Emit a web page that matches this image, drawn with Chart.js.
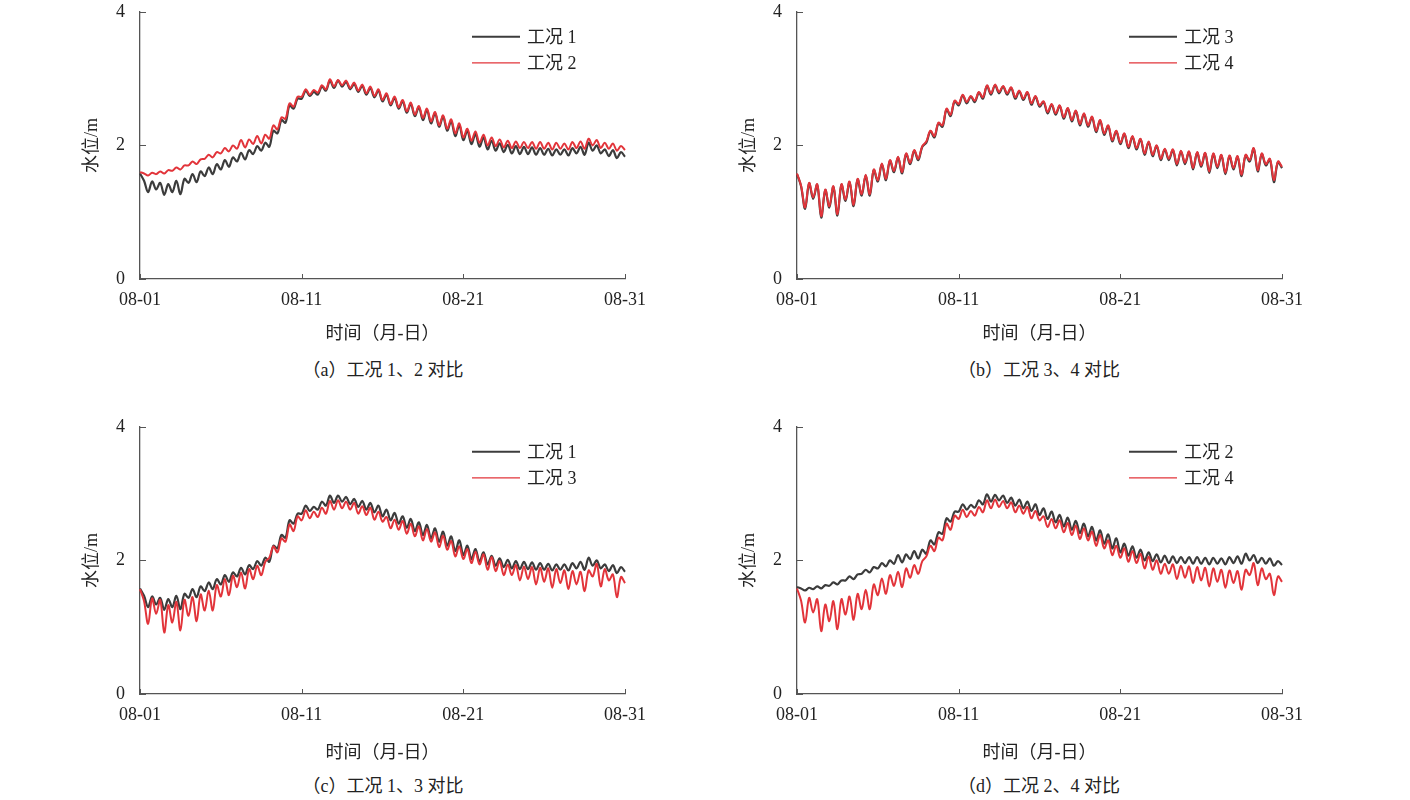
<!DOCTYPE html>
<html>
<head>
<meta charset="utf-8">
<script src="https://cdn.jsdelivr.net/npm/chart.js@4.4.1/dist/chart.umd.min.js"></script>
<style>
  html, body { margin: 0; padding: 0; background: #ffffff; }
  body { width: 1410px; height: 800px; position: relative; overflow: hidden; }
  canvas { position: absolute; }
  .cap { position: absolute; width: 400px; text-align: center; font: 18px "Liberation Serif", "Noto Sans CJK SC", serif; line-height: 22px; color: #222; }
</style>
</head>
<body>
<canvas id="ca" width="620" height="351" style="left:40px;top:-6px"></canvas>
<canvas id="cb" width="620" height="351" style="left:697px;top:-6px"></canvas>
<canvas id="cc" width="620" height="355" style="left:40px;top:409px"></canvas>
<canvas id="cd" width="620" height="355" style="left:697px;top:409px"></canvas>
<div class="cap" style="left:183px;top:359px">（a）工况 1、2 对比</div>
<div class="cap" style="left:839px;top:359px">（b）工况 3、4 对比</div>
<div class="cap" style="left:183px;top:775px">（c）工况 1、3 对比</div>
<div class="cap" style="left:839px;top:775px">（d）工况 2、4 对比</div>
<script>
// ---- data (6-hourly water level, m) ----
const tickLabels = ['08-01', '08-11', '08-21', '08-31'];
const yTicks = [0, 2, 4];
const caseNames = ['工况 1', '工况 2', '工况 3', '工况 4'];

const case1 = [
  1.58, 1.47, 1.30, 1.46,  1.34, 1.44, 1.26, 1.42,  1.30, 1.47, 1.27, 1.50,
  1.44, 1.57, 1.45, 1.61,  1.54, 1.67, 1.57, 1.72,  1.64, 1.78, 1.68, 1.82,
  1.76, 1.89, 1.79, 1.93,  1.87, 1.99, 1.92, 2.04,  1.98, 2.22, 2.18, 2.38,
  2.34, 2.60, 2.55, 2.70,  2.70, 2.82, 2.74, 2.80,  2.76, 2.88, 2.82, 2.97,
  2.86, 2.97, 2.88, 2.95,  2.84, 2.92, 2.80, 2.89,  2.76, 2.86, 2.72, 2.82,
  2.66, 2.76, 2.60, 2.71,  2.55, 2.66, 2.49, 2.62,  2.44, 2.57, 2.38, 2.53,
  2.33, 2.48, 2.28, 2.43,  2.22, 2.36, 2.14, 2.30,  2.08, 2.22, 2.02, 2.17,
  1.98, 2.12, 1.94, 2.07,  1.92, 2.03, 1.90, 2.01,  1.88, 1.99, 1.87, 1.98,
  1.87, 1.97, 1.86, 1.96,  1.86, 1.95, 1.85, 1.94,  1.86, 1.94, 1.85, 1.96,
  1.88, 1.98, 1.86, 2.04,  1.92, 2.00, 1.88, 1.94,  1.84, 1.93, 1.81, 1.90,
  1.83
];
const case2 = [
  1.60, 1.58, 1.55, 1.59,  1.57, 1.61, 1.58, 1.63,  1.62, 1.67, 1.64, 1.70,
  1.70, 1.76, 1.72, 1.79,  1.80, 1.86, 1.82, 1.90,  1.88, 1.96, 1.91, 2.00,
  1.95, 2.08, 1.97, 2.09,  2.02, 2.14, 2.03, 2.16,  2.10, 2.30, 2.24, 2.42,
  2.40, 2.63, 2.58, 2.73,  2.73, 2.84, 2.76, 2.83,  2.79, 2.90, 2.84, 2.99,
  2.88, 2.98, 2.90, 2.97,  2.86, 2.94, 2.82, 2.91,  2.78, 2.88, 2.74, 2.84,
  2.68, 2.78, 2.62, 2.73,  2.57, 2.68, 2.51, 2.64,  2.46, 2.59, 2.41, 2.55,
  2.36, 2.50, 2.30, 2.45,  2.25, 2.39, 2.18, 2.33,  2.12, 2.25, 2.07, 2.21,
  2.04, 2.16, 2.00, 2.12,  1.99, 2.09, 1.97, 2.07,  1.96, 2.06, 1.96, 2.05,
  1.96, 2.05, 1.95, 2.05,  1.95, 2.04, 1.94, 2.04,  1.95, 2.03, 1.94, 2.05,
  1.96, 2.06, 1.95, 2.10,  2.00, 2.08, 1.96, 2.04,  1.95, 2.03, 1.92, 1.99,
  1.93
];
const case3 = [
  1.57, 1.39, 1.05, 1.43,  1.20, 1.41, 0.92, 1.33,  1.07, 1.38, 0.95, 1.41,
  1.17, 1.45, 1.09, 1.49,  1.25, 1.55, 1.25, 1.63,  1.46, 1.72, 1.48, 1.77,
  1.60, 1.82, 1.58, 1.87,  1.72, 1.92, 1.78, 1.98,  2.04, 2.21, 2.12, 2.33,
  2.28, 2.54, 2.44, 2.66,  2.60, 2.75, 2.63, 2.73,  2.65, 2.79, 2.70, 2.89,
  2.76, 2.90, 2.78, 2.88,  2.76, 2.86, 2.70, 2.81,  2.68, 2.79, 2.61, 2.73,
  2.58, 2.65, 2.48, 2.61,  2.46, 2.59, 2.40, 2.55,  2.36, 2.51, 2.30, 2.47,
  2.28, 2.42, 2.20, 2.37,  2.16, 2.29, 2.06, 2.21,  2.02, 2.17, 1.96, 2.13,
  1.94, 2.09, 1.86, 2.05,  1.84, 1.99, 1.78, 1.94,  1.78, 1.93, 1.70, 1.91,
  1.72, 1.90, 1.64, 1.89,  1.68, 1.88, 1.59, 1.87,  1.66, 1.85, 1.57, 1.84,
  1.64, 1.83, 1.54, 1.85,  1.76, 1.95, 1.61, 1.87,  1.70, 1.79, 1.45, 1.75,
  1.66
];
const case4 = [
  1.58, 1.40, 1.07, 1.44,  1.22, 1.42, 0.94, 1.34,  1.09, 1.39, 0.97, 1.42,
  1.19, 1.46, 1.11, 1.50,  1.27, 1.56, 1.27, 1.64,  1.48, 1.73, 1.50, 1.78,
  1.62, 1.83, 1.60, 1.88,  1.74, 1.93, 1.80, 1.99,  2.06, 2.22, 2.14, 2.34,
  2.30, 2.55, 2.46, 2.67,  2.62, 2.76, 2.65, 2.74,  2.67, 2.80, 2.72, 2.90,
  2.78, 2.91, 2.80, 2.89,  2.78, 2.87, 2.72, 2.82,  2.70, 2.80, 2.63, 2.74,
  2.60, 2.66, 2.50, 2.62,  2.48, 2.60, 2.42, 2.56,  2.38, 2.52, 2.32, 2.48,
  2.30, 2.43, 2.22, 2.38,  2.18, 2.30, 2.08, 2.22,  2.04, 2.18, 1.98, 2.14,
  1.96, 2.10, 1.88, 2.06,  1.86, 2.00, 1.80, 1.95,  1.80, 1.94, 1.72, 1.92,
  1.74, 1.91, 1.66, 1.90,  1.70, 1.89, 1.61, 1.88,  1.68, 1.86, 1.59, 1.85,
  1.66, 1.84, 1.56, 1.86,  1.78, 1.96, 1.63, 1.88,  1.72, 1.80, 1.48, 1.76,
  1.68
];

// time categories: every 6 hours from 08-01 00:00 to 08-31 00:00
const pad = n => String(n).padStart(2, '0');
const times = [];
for (let d = 1; d <= 31; d++) {
  for (const h of [0, 6, 12, 18]) {
    if (d === 31 && h > 0) break;
    times.push('08-' + pad(d) + ' ' + pad(h) + ':00');
  }
}
const tickIndex = tickLabels.map(t => times.indexOf(t + ' 00:00'));

const FONT = '"Liberation Serif", "Noto Sans CJK SC", serif';
const BLACK = '#3c3c3c';
const RED = '#e2343a';
const AXIS = '#555555';

const decor = {
  id: 'decor',
  afterDraw(chart) {
    const { ctx, chartArea: { left, right, top, bottom }, scales: { x, y } } = chart;
    ctx.save();
    ctx.strokeStyle = AXIS;
    ctx.lineWidth = 1;
    tickIndex.forEach(i => {
      const px = Math.round(x.getPixelForValue(i)) + 0.5;
      ctx.beginPath(); ctx.moveTo(px, bottom); ctx.lineTo(px, bottom - 5); ctx.stroke();
    });
    yTicks.forEach(v => {
      const py = Math.round(y.getPixelForValue(v)) + 0.5;
      ctx.beginPath(); ctx.moveTo(left, py); ctx.lineTo(left + 6, py); ctx.stroke();
    });
    // legend
    const ds = chart.data.datasets;
    const entries = [ds[1], ds[0]]; // black first, then red
    entries.forEach((d, k) => {
      const ly = top + 25 + k * 26;
      ctx.strokeStyle = d.borderColor;
      ctx.lineWidth = k === 0 ? 2 : 1.3;
      ctx.beginPath(); ctx.moveTo(right - 153, ly); ctx.lineTo(right - 105, ly); ctx.stroke();
      ctx.fillStyle = '#222';
      ctx.font = '18px ' + FONT;
      ctx.textBaseline = 'middle';
      ctx.textAlign = 'left';
      ctx.fillText(d.label, right - 98, ly + 1);
    });
    ctx.restore();
  }
};

function makeChart(id, blackData, blackName, redData, redName, xScaleHeight) {
  new Chart(document.getElementById(id), {
    type: 'line',
    data: {
      labels: times,
      datasets: [
        { label: redName, data: redData, borderColor: RED, borderWidth: 2, pointRadius: 0, tension: 0.35, order: 1, fill: false },
        { label: blackName, data: blackData, borderColor: BLACK, borderWidth: 2.2, pointRadius: 0, tension: 0.35, order: 2, fill: false }
      ]
    },
    options: {
      responsive: false,
      animation: false,
      events: [],
      layout: { padding: { top: 6, right: 35, left: 0, bottom: 0 } },
      plugins: { legend: { display: false }, tooltip: { enabled: false } },
      scales: {
        x: {
          type: 'category',
          offset: false,
          grid: { display: false },
          border: { display: true, color: AXIS, width: 1.3 },
          ticks: {
            autoSkip: false, maxRotation: 0, minRotation: 0, padding: 2,
            color: '#222', font: { family: FONT, size: 18 },
            callback: (v, i) => { const k = tickIndex.indexOf(i); return k >= 0 ? tickLabels[k] : null; }
          },
          title: { display: true, text: '时间（月-日）', color: '#222', font: { family: FONT, size: 18 }, padding: { top: 0, bottom: 0 } },
          afterFit: s => { s.height = xScaleHeight; }
        },
        y: {
          min: 0, max: 4,
          grid: { display: false },
          border: { display: true, color: AXIS, width: 1.3 },
          ticks: { stepSize: 2, padding: 7, color: '#222', font: { family: FONT, size: 18 } },
          title: { display: true, text: '水位/m', color: '#222', font: { family: FONT, size: 18 }, padding: { top: 41, bottom: 0 } },
          afterFit: s => { s.width = 100; }
        }
      }
    },
    plugins: [decor]
  });
}

makeChart('ca', case1, caseNames[0], case2, caseNames[1], 66);
makeChart('cb', case3, caseNames[2], case4, caseNames[3], 66);
makeChart('cc', case1, caseNames[0], case3, caseNames[2], 70);
makeChart('cd', case2, caseNames[1], case4, caseNames[3], 70);
</script>
</body>
</html>
